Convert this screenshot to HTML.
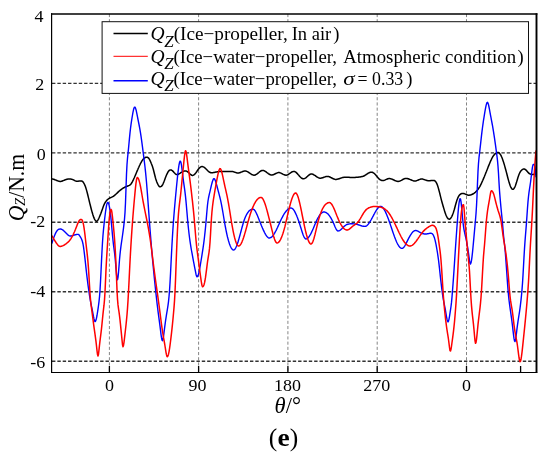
<!DOCTYPE html>
<html><head><meta charset="utf-8"><title>Qz chart (e)</title>
<style>
html,body{margin:0;padding:0;background:#fff;}
svg{display:block;font-family:"Liberation Serif","DejaVu Serif",serif;}
.tk{font-size:17.5px;fill:#000;}
.lg{font-size:18.5px;fill:#000;}
</style></head><body>
<svg width="550" height="459" viewBox="0 0 550 459">
<rect x="0" y="0" width="550" height="459" fill="#fff"/>
<!-- grid -->
<g stroke="#858585" stroke-width="1" stroke-dasharray="3.1 2.1" fill="none">
<path d="M109.4,14V372 M198.6,14V372 M287.9,14V372 M377.2,14V372 M466.5,14V372"/>
</g>
<g stroke="#333" stroke-width="1.35" stroke-dasharray="3.4 1.95" fill="none">
<path d="M52,83.4H537 M52,152.8H537 M52,222.2H537 M52,291.7H537 M52,361.2H537"/>
</g>
<!-- curves -->
<g fill="none" stroke-linejoin="round" stroke-linecap="round">
<path stroke="#000" stroke-width="1.5" d="M51.8,179.0 L52.3,179.0 L52.8,179.1 L53.3,179.2 L53.8,179.3 L54.3,179.5 L54.8,179.7 L55.3,179.9 L55.8,180.1 L56.3,180.3 L56.8,180.5 L57.3,180.7 L57.8,180.9 L58.3,181.1 L58.8,181.2 L59.3,181.3 L59.8,181.4 L60.3,181.4 L60.8,181.4 L61.3,181.3 L61.8,181.2 L62.3,181.0 L62.8,180.8 L63.3,180.6 L63.8,180.4 L64.3,180.2 L64.8,180.0 L65.3,179.8 L65.8,179.6 L66.3,179.5 L66.8,179.3 L67.3,179.2 L67.8,179.1 L68.3,179.0 L68.8,179.0 L69.3,179.0 L69.8,179.0 L70.3,179.1 L70.8,179.1 L71.3,179.2 L71.8,179.3 L72.3,179.4 L72.8,179.6 L73.3,179.8 L73.8,180.1 L74.3,180.3 L74.8,180.6 L75.3,180.9 L75.8,181.1 L76.3,181.2 L76.8,181.3 L77.3,181.3 L77.8,181.3 L78.3,181.2 L78.8,181.1 L79.3,181.1 L79.8,181.0 L80.3,180.9 L80.8,180.9 L81.3,180.9 L81.8,181.0 L82.3,181.3 L82.8,181.7 L83.3,182.3 L83.8,183.1 L84.3,184.0 L84.8,185.1 L85.3,186.3 L85.8,187.8 L86.3,189.4 L86.8,191.1 L87.3,193.0 L87.8,195.0 L88.3,197.1 L88.8,199.2 L89.3,201.2 L89.8,203.3 L90.3,205.3 L90.8,207.3 L91.3,209.2 L91.8,211.1 L92.3,212.8 L92.8,214.5 L93.3,216.0 L93.8,217.4 L94.3,218.6 L94.8,219.6 L95.3,220.3 L95.8,220.9 L96.3,221.2 L96.8,221.2 L97.3,220.8 L97.8,220.2 L98.3,219.3 L98.8,218.3 L99.3,217.2 L99.8,216.0 L100.3,214.8 L100.8,213.6 L101.3,212.2 L101.8,210.8 L102.3,209.4 L102.8,208.0 L103.3,206.6 L103.8,205.3 L104.3,204.1 L104.8,203.2 L105.3,202.3 L105.8,201.6 L106.3,200.9 L106.8,200.3 L107.3,199.8 L107.8,199.4 L108.3,199.0 L108.8,198.6 L109.3,198.3 L109.8,198.0 L110.3,197.8 L110.8,197.6 L111.3,197.3 L111.8,197.1 L112.3,196.9 L112.8,196.6 L113.3,196.3 L113.8,196.0 L114.3,195.6 L114.8,195.2 L115.3,194.7 L115.8,194.3 L116.3,193.8 L116.8,193.3 L117.3,192.9 L117.8,192.4 L118.3,191.9 L118.8,191.4 L119.3,191.0 L119.8,190.6 L120.3,190.2 L120.8,189.8 L121.3,189.4 L121.8,189.0 L122.3,188.7 L122.8,188.3 L123.3,188.0 L123.8,187.7 L124.3,187.5 L124.8,187.2 L125.3,187.0 L125.8,186.8 L126.3,186.6 L126.8,186.4 L127.3,186.2 L127.8,186.0 L128.3,185.8 L128.8,185.6 L129.3,185.4 L129.8,185.1 L130.3,184.7 L130.8,184.2 L131.3,183.5 L131.8,182.8 L132.3,181.9 L132.8,180.9 L133.3,179.9 L133.8,178.8 L134.3,177.7 L134.8,176.5 L135.3,175.4 L135.8,174.2 L136.3,173.0 L136.8,171.8 L137.3,170.6 L137.8,169.5 L138.3,168.3 L138.8,167.2 L139.3,166.0 L139.8,165.0 L140.3,163.9 L140.8,163.0 L141.3,162.1 L141.8,161.2 L142.3,160.4 L142.8,159.7 L143.3,159.1 L143.8,158.6 L144.3,158.1 L144.8,157.8 L145.3,157.5 L145.8,157.3 L146.3,157.2 L146.8,157.2 L147.3,157.3 L147.8,157.5 L148.3,157.9 L148.8,158.4 L149.3,159.1 L149.8,160.0 L150.3,161.1 L150.8,162.2 L151.3,163.5 L151.8,164.7 L152.3,166.1 L152.8,167.6 L153.3,169.3 L153.8,171.2 L154.3,173.2 L154.8,175.2 L155.3,177.2 L155.8,179.0 L156.3,180.6 L156.8,182.0 L157.3,183.2 L157.8,184.2 L158.3,185.1 L158.8,185.9 L159.3,186.5 L159.8,186.8 L160.3,186.8 L160.8,186.6 L161.3,186.4 L161.8,185.9 L162.3,185.3 L162.8,184.4 L163.3,183.3 L163.8,182.1 L164.3,180.8 L164.8,179.4 L165.3,178.0 L165.8,176.7 L166.3,175.5 L166.8,174.3 L167.3,173.3 L167.8,172.3 L168.3,171.5 L168.8,170.9 L169.3,170.4 L169.8,170.1 L170.3,170.0 L170.8,169.9 L171.3,170.0 L171.8,170.3 L172.3,170.6 L172.8,171.1 L173.3,171.6 L173.8,172.2 L174.3,172.8 L174.8,173.3 L175.3,173.8 L175.8,174.2 L176.3,174.5 L176.8,174.6 L177.3,174.6 L177.8,174.4 L178.3,174.3 L178.8,174.0 L179.3,173.7 L179.8,173.4 L180.3,173.1 L180.8,172.7 L181.3,172.4 L181.8,172.1 L182.3,171.9 L182.8,171.6 L183.3,171.4 L183.8,171.2 L184.3,171.1 L184.8,171.0 L185.3,171.0 L185.8,171.0 L186.3,171.1 L186.8,171.3 L187.3,171.6 L187.8,171.9 L188.3,172.3 L188.8,172.8 L189.3,173.3 L189.8,173.8 L190.3,174.2 L190.8,174.7 L191.3,175.0 L191.8,175.3 L192.3,175.4 L192.8,175.4 L193.3,175.2 L193.8,174.9 L194.3,174.6 L194.8,174.1 L195.3,173.5 L195.8,172.9 L196.3,172.2 L196.8,171.5 L197.3,170.7 L197.8,170.0 L198.3,169.3 L198.8,168.7 L199.3,168.1 L199.8,167.7 L200.3,167.2 L200.8,166.9 L201.3,166.7 L201.8,166.6 L202.3,166.6 L202.8,166.7 L203.3,166.9 L203.8,167.1 L204.3,167.4 L204.8,167.8 L205.3,168.3 L205.8,168.8 L206.3,169.3 L206.8,169.8 L207.3,170.3 L207.8,170.8 L208.3,171.3 L208.8,171.7 L209.3,172.0 L209.8,172.3 L210.3,172.5 L210.8,172.7 L211.3,172.8 L211.8,172.8 L212.3,172.8 L212.8,172.7 L213.3,172.6 L213.8,172.5 L214.3,172.4 L214.8,172.3 L215.3,172.2 L215.8,172.1 L216.3,172.0 L216.8,171.9 L217.3,171.8 L217.8,171.7 L218.3,171.6 L218.8,171.6 L219.3,171.5 L219.8,171.5 L220.3,171.5 L220.8,171.5 L221.3,171.5 L221.8,171.5 L222.3,171.5 L222.8,171.4 L223.3,171.4 L223.8,171.4 L224.3,171.4 L224.8,171.4 L225.3,171.4 L225.8,171.4 L226.3,171.4 L226.8,171.4 L227.3,171.4 L227.8,171.4 L228.3,171.4 L228.8,171.4 L229.3,171.4 L229.8,171.4 L230.3,171.4 L230.8,171.4 L231.3,171.4 L231.8,171.4 L232.3,171.5 L232.8,171.6 L233.3,171.7 L233.8,171.9 L234.3,172.1 L234.8,172.2 L235.3,172.4 L235.8,172.6 L236.3,172.7 L236.8,172.9 L237.3,172.9 L237.8,173.0 L238.3,173.0 L238.8,172.9 L239.3,172.8 L239.8,172.7 L240.3,172.5 L240.8,172.3 L241.3,172.1 L241.8,171.9 L242.3,171.7 L242.8,171.5 L243.3,171.3 L243.8,171.2 L244.3,171.1 L244.8,171.0 L245.3,171.0 L245.8,171.1 L246.3,171.2 L246.8,171.4 L247.3,171.6 L247.8,171.8 L248.3,172.2 L248.8,172.5 L249.3,172.8 L249.8,173.2 L250.3,173.5 L250.8,173.9 L251.3,174.2 L251.8,174.5 L252.3,174.7 L252.8,174.9 L253.3,175.1 L253.8,175.2 L254.3,175.2 L254.8,175.1 L255.3,175.0 L255.8,174.7 L256.3,174.4 L256.8,174.1 L257.3,173.7 L257.8,173.3 L258.3,172.9 L258.8,172.5 L259.3,172.0 L259.8,171.6 L260.3,171.3 L260.8,171.0 L261.3,170.7 L261.8,170.5 L262.3,170.4 L262.8,170.4 L263.3,170.5 L263.8,170.6 L264.3,170.8 L264.8,171.1 L265.3,171.4 L265.8,171.7 L266.3,172.1 L266.8,172.5 L267.3,172.9 L267.8,173.2 L268.3,173.6 L268.8,173.9 L269.3,174.3 L269.8,174.5 L270.3,174.7 L270.8,174.9 L271.3,175.0 L271.8,175.0 L272.3,174.9 L272.8,174.8 L273.3,174.7 L273.8,174.5 L274.3,174.2 L274.8,174.0 L275.3,173.8 L275.8,173.5 L276.3,173.3 L276.8,173.1 L277.3,172.9 L277.8,172.7 L278.3,172.6 L278.8,172.6 L279.3,172.6 L279.8,172.7 L280.3,172.9 L280.8,173.1 L281.3,173.3 L281.8,173.6 L282.3,173.8 L282.8,174.1 L283.3,174.4 L283.8,174.6 L284.3,174.8 L284.8,175.0 L285.3,175.1 L285.8,175.2 L286.3,175.2 L286.8,175.1 L287.3,174.9 L287.8,174.7 L288.3,174.4 L288.8,174.1 L289.3,173.7 L289.8,173.4 L290.3,173.0 L290.8,172.7 L291.3,172.3 L291.8,172.0 L292.3,171.8 L292.8,171.6 L293.3,171.4 L293.8,171.4 L294.3,171.5 L294.8,171.6 L295.3,171.9 L295.8,172.2 L296.3,172.6 L296.8,173.1 L297.3,173.6 L297.8,174.2 L298.3,174.8 L298.8,175.3 L299.3,175.9 L299.8,176.5 L300.3,177.0 L300.8,177.5 L301.3,177.9 L301.8,178.3 L302.3,178.5 L302.8,178.7 L303.3,178.8 L303.8,178.8 L304.3,178.6 L304.8,178.4 L305.3,178.1 L305.8,177.8 L306.3,177.4 L306.8,176.9 L307.3,176.5 L307.8,176.0 L308.3,175.6 L308.8,175.2 L309.3,174.8 L309.8,174.5 L310.3,174.2 L310.8,174.1 L311.3,174.0 L311.8,174.0 L312.3,174.1 L312.8,174.3 L313.3,174.5 L313.8,174.8 L314.3,175.1 L314.8,175.4 L315.3,175.7 L315.8,176.1 L316.3,176.5 L316.8,176.8 L317.3,177.1 L317.8,177.4 L318.3,177.7 L318.8,177.9 L319.3,178.1 L319.8,178.2 L320.3,178.2 L320.8,178.2 L321.3,178.1 L321.8,178.0 L322.3,177.8 L322.8,177.7 L323.3,177.5 L323.8,177.3 L324.3,177.1 L324.8,176.9 L325.3,176.8 L325.8,176.6 L326.3,176.5 L326.8,176.4 L327.3,176.4 L327.8,176.4 L328.3,176.5 L328.8,176.6 L329.3,176.8 L329.8,177.0 L330.3,177.2 L330.8,177.5 L331.3,177.7 L331.8,178.0 L332.3,178.3 L332.8,178.5 L333.3,178.8 L333.8,179.0 L334.3,179.1 L334.8,179.3 L335.3,179.4 L335.8,179.4 L336.3,179.4 L336.8,179.3 L337.3,179.2 L337.8,179.1 L338.3,179.0 L338.8,178.8 L339.3,178.7 L339.8,178.5 L340.3,178.3 L340.8,178.1 L341.3,177.9 L341.8,177.8 L342.3,177.6 L342.8,177.5 L343.3,177.4 L343.8,177.3 L344.3,177.2 L344.8,177.2 L345.3,177.2 L345.8,177.2 L346.3,177.2 L346.8,177.2 L347.3,177.3 L347.8,177.3 L348.3,177.3 L348.8,177.3 L349.3,177.3 L349.8,177.4 L350.3,177.4 L350.8,177.4 L351.3,177.4 L351.8,177.4 L352.3,177.4 L352.8,177.4 L353.3,177.4 L353.8,177.4 L354.3,177.4 L354.8,177.4 L355.3,177.4 L355.8,177.3 L356.3,177.3 L356.8,177.3 L357.3,177.3 L357.8,177.2 L358.3,177.2 L358.8,177.1 L359.3,177.1 L359.8,177.0 L360.3,176.9 L360.8,176.8 L361.3,176.7 L361.8,176.6 L362.3,176.5 L362.8,176.4 L363.3,176.2 L363.8,176.0 L364.3,175.8 L364.8,175.5 L365.3,175.1 L365.8,174.8 L366.3,174.5 L366.8,174.1 L367.3,173.8 L367.8,173.5 L368.3,173.2 L368.8,172.9 L369.3,172.7 L369.8,172.5 L370.3,172.3 L370.8,172.2 L371.3,172.2 L371.8,172.2 L372.3,172.3 L372.8,172.5 L373.3,172.8 L373.8,173.1 L374.3,173.5 L374.8,174.0 L375.3,174.5 L375.8,175.1 L376.3,175.7 L376.8,176.3 L377.3,176.9 L377.8,177.5 L378.3,178.1 L378.8,178.6 L379.3,179.1 L379.8,179.5 L380.3,179.8 L380.8,180.1 L381.3,180.3 L381.8,180.5 L382.3,180.6 L382.8,180.6 L383.3,180.5 L383.8,180.4 L384.3,180.3 L384.8,180.1 L385.3,179.9 L385.8,179.6 L386.3,179.4 L386.8,179.2 L387.3,179.0 L387.8,178.8 L388.3,178.7 L388.8,178.6 L389.3,178.6 L389.8,178.6 L390.3,178.7 L390.8,178.8 L391.3,178.9 L391.8,179.1 L392.3,179.3 L392.8,179.5 L393.3,179.8 L393.8,180.0 L394.3,180.2 L394.8,180.5 L395.3,180.7 L395.8,180.9 L396.3,181.1 L396.8,181.2 L397.3,181.3 L397.8,181.4 L398.3,181.4 L398.8,181.3 L399.3,181.2 L399.8,181.1 L400.3,180.9 L400.8,180.6 L401.3,180.4 L401.8,180.1 L402.3,179.8 L402.8,179.5 L403.3,179.2 L403.8,179.0 L404.3,178.8 L404.8,178.6 L405.3,178.5 L405.8,178.4 L406.3,178.4 L406.8,178.5 L407.3,178.5 L407.8,178.7 L408.3,178.8 L408.8,179.0 L409.3,179.2 L409.8,179.4 L410.3,179.6 L410.8,179.8 L411.3,180.0 L411.8,180.2 L412.3,180.4 L412.8,180.6 L413.3,180.8 L413.8,180.9 L414.3,181.0 L414.8,181.0 L415.3,181.0 L415.8,180.9 L416.3,180.8 L416.8,180.6 L417.3,180.4 L417.8,180.2 L418.3,180.0 L418.8,179.8 L419.3,179.6 L419.8,179.4 L420.3,179.2 L420.8,179.1 L421.3,179.0 L421.8,179.0 L422.3,179.0 L422.8,179.1 L423.3,179.3 L423.8,179.4 L424.3,179.6 L424.8,179.8 L425.3,179.9 L425.8,180.1 L426.3,180.3 L426.8,180.5 L427.3,180.6 L427.8,180.7 L428.3,180.8 L428.8,180.8 L429.3,180.8 L429.8,180.8 L430.3,180.7 L430.8,180.6 L431.3,180.6 L431.8,180.5 L432.3,180.5 L432.8,180.4 L433.3,180.4 L433.8,180.4 L434.3,180.5 L434.8,180.8 L435.3,181.2 L435.8,181.8 L436.3,182.6 L436.8,183.6 L437.3,184.8 L437.8,186.3 L438.3,187.9 L438.8,189.7 L439.3,191.6 L439.8,193.5 L440.3,195.6 L440.8,197.6 L441.3,199.6 L441.8,201.5 L442.3,203.3 L442.8,205.0 L443.3,206.7 L443.8,208.4 L444.3,210.1 L444.8,211.7 L445.3,213.2 L445.8,214.6 L446.3,215.8 L446.8,216.9 L447.3,217.7 L447.8,218.4 L448.3,218.9 L448.8,219.1 L449.3,219.2 L449.8,219.0 L450.3,218.7 L450.8,218.1 L451.3,217.4 L451.8,216.5 L452.3,215.4 L452.8,214.1 L453.3,212.7 L453.8,211.1 L454.3,209.5 L454.8,207.7 L455.3,205.8 L455.8,204.0 L456.3,202.2 L456.8,200.6 L457.3,199.2 L457.8,197.9 L458.3,196.9 L458.8,196.0 L459.3,195.3 L459.8,194.7 L460.3,194.3 L460.8,193.9 L461.3,193.7 L461.8,193.5 L462.3,193.4 L462.8,193.4 L463.3,193.4 L463.8,193.5 L464.3,193.7 L464.8,193.9 L465.3,194.1 L465.8,194.4 L466.3,194.6 L466.8,194.8 L467.3,195.0 L467.8,195.1 L468.3,195.2 L468.8,195.2 L469.3,195.2 L469.8,195.1 L470.3,195.0 L470.8,194.9 L471.3,194.7 L471.8,194.5 L472.3,194.3 L472.8,194.0 L473.3,193.8 L473.8,193.4 L474.3,193.1 L474.8,192.7 L475.3,192.3 L475.8,191.8 L476.3,191.3 L476.8,190.8 L477.3,190.3 L477.8,189.6 L478.3,189.0 L478.8,188.2 L479.3,187.4 L479.8,186.6 L480.3,185.6 L480.8,184.7 L481.3,183.6 L481.8,182.5 L482.3,181.4 L482.8,180.3 L483.3,179.1 L483.8,177.9 L484.3,176.7 L484.8,175.4 L485.3,174.2 L485.8,172.9 L486.3,171.7 L486.8,170.4 L487.3,169.2 L487.8,167.9 L488.3,166.6 L488.8,165.4 L489.3,164.2 L489.8,163.0 L490.3,161.8 L490.8,160.6 L491.3,159.6 L491.8,158.5 L492.3,157.6 L492.8,156.7 L493.3,155.9 L493.8,155.3 L494.3,154.7 L494.8,154.1 L495.3,153.7 L495.8,153.3 L496.3,153.0 L496.8,152.7 L497.3,152.5 L497.8,152.4 L498.3,152.5 L498.8,152.7 L499.3,153.1 L499.8,153.7 L500.3,154.4 L500.8,155.2 L501.3,156.2 L501.8,157.3 L502.3,158.6 L502.8,160.0 L503.3,161.4 L503.8,163.0 L504.3,164.6 L504.8,166.4 L505.3,168.2 L505.8,170.0 L506.3,171.9 L506.8,173.8 L507.3,175.7 L507.8,177.7 L508.3,179.6 L508.8,181.4 L509.3,183.1 L509.8,184.6 L510.3,186.0 L510.8,187.1 L511.3,188.0 L511.8,188.7 L512.3,189.2 L512.8,189.3 L513.3,189.2 L513.8,188.7 L514.3,188.0 L514.8,187.1 L515.3,186.0 L515.8,184.6 L516.3,183.1 L516.8,181.4 L517.3,179.7 L517.8,178.0 L518.3,176.4 L518.8,175.0 L519.3,173.8 L519.8,172.7 L520.3,171.8 L520.8,171.1 L521.3,170.5 L521.8,170.0 L522.3,169.6 L522.8,169.3 L523.3,169.1 L523.8,169.0 L524.3,169.0 L524.8,169.2 L525.3,169.5 L525.8,169.9 L526.3,170.4 L526.8,170.9 L527.3,171.5 L527.8,172.1 L528.3,172.6 L528.8,173.1 L529.3,173.6 L529.8,173.8 L530.3,174.1 L530.8,174.2 L531.3,174.3 L531.8,174.4 L532.3,174.4 L532.8,174.4 L533.3,174.4 L533.8,174.3 L534.3,174.2 L534.8,174.1 L535.3,174.1 L535.8,174.0"/>
<path stroke="#0000ff" stroke-width="1.4" d="M52.0,243.0 L52.5,241.4 L53.0,239.9 L53.5,238.4 L54.0,237.0 L54.5,235.7 L55.0,234.5 L55.5,233.4 L56.0,232.4 L56.5,231.5 L57.0,230.8 L57.5,230.2 L58.0,229.8 L58.5,229.4 L59.0,229.2 L59.5,229.1 L60.0,229.0 L60.5,229.0 L61.0,229.1 L61.5,229.2 L62.0,229.5 L62.5,229.8 L63.0,230.1 L63.5,230.6 L64.0,231.0 L64.5,231.5 L65.0,232.0 L65.5,232.5 L66.0,233.0 L66.5,233.5 L67.0,234.0 L67.5,234.5 L68.0,234.9 L68.5,235.4 L69.0,235.7 L69.5,235.9 L70.0,236.0 L70.5,236.0 L71.0,236.0 L71.5,235.9 L72.0,235.8 L72.5,235.7 L73.0,235.6 L73.5,235.4 L74.0,235.2 L74.5,235.0 L75.0,234.8 L75.5,234.7 L76.0,234.6 L76.5,234.5 L77.0,234.4 L77.5,234.4 L78.0,234.4 L78.5,234.5 L79.0,234.9 L79.5,235.5 L80.0,236.3 L80.5,237.1 L81.0,238.0 L81.5,239.0 L82.0,240.2 L82.5,241.8 L83.0,244.0 L83.5,246.9 L84.0,250.5 L84.5,254.6 L85.0,258.9 L85.5,263.5 L86.0,268.1 L86.5,272.6 L87.0,276.9 L87.5,280.9 L88.0,284.8 L88.5,288.5 L89.0,292.0 L89.5,295.3 L90.0,298.5 L90.5,301.3 L91.0,303.9 L91.5,306.3 L92.0,308.6 L92.5,311.1 L93.0,313.8 L93.5,316.5 L94.0,318.9 L94.5,320.7 L95.0,321.6 L95.5,321.3 L96.0,320.1 L96.5,318.1 L97.0,315.5 L97.5,312.4 L98.0,309.1 L98.5,305.5 L99.0,301.6 L99.5,296.9 L100.0,290.5 L100.5,281.8 L101.0,271.7 L101.5,261.1 L102.0,251.0 L102.5,242.3 L103.0,235.3 L103.5,229.6 L104.0,224.7 L104.5,220.2 L105.0,216.0 L105.5,212.0 L106.0,208.6 L106.5,205.7 L107.0,203.7 L107.5,202.5 L108.0,202.4 L108.5,203.2 L109.0,204.8 L109.5,207.2 L110.0,210.4 L110.5,214.3 L111.0,218.9 L111.5,224.2 L112.0,229.8 L112.5,235.4 L113.0,240.5 L113.5,244.9 L114.0,248.7 L114.5,252.4 L115.0,256.7 L115.5,262.1 L116.0,268.5 L116.5,274.4 L117.0,278.7 L117.5,279.8 L118.0,277.4 L118.5,272.4 L119.0,266.2 L119.5,259.8 L120.0,254.4 L120.5,249.8 L121.0,245.9 L121.5,242.4 L122.0,239.0 L122.5,235.5 L123.0,231.9 L123.5,228.1 L124.0,223.8 L124.5,219.0 L125.0,212.6 L125.5,202.7 L126.0,188.4 L126.5,174.2 L127.0,164.5 L127.5,158.3 L128.0,153.5 L128.5,148.6 L129.0,143.2 L129.5,137.9 L130.0,132.9 L130.5,128.5 L131.0,124.7 L131.5,121.2 L132.0,118.0 L132.5,115.0 L133.0,112.1 L133.5,109.8 L134.0,108.0 L134.5,107.1 L135.0,107.2 L135.5,108.1 L136.0,109.7 L136.5,111.8 L137.0,114.3 L137.5,116.9 L138.0,119.5 L138.5,122.0 L139.0,124.5 L139.5,127.2 L140.0,129.9 L140.5,132.9 L141.0,136.1 L141.5,139.6 L142.0,143.3 L142.5,147.2 L143.0,151.1 L143.5,154.9 L144.0,158.8 L144.5,162.8 L145.0,167.0 L145.5,171.6 L146.0,176.7 L146.5,182.3 L147.0,188.5 L147.5,194.9 L148.0,201.7 L148.5,208.6 L149.0,215.5 L149.5,222.3 L150.0,229.0 L150.5,235.4 L151.0,241.5 L151.5,247.5 L152.0,253.3 L152.5,258.9 L153.0,264.3 L153.5,269.5 L154.0,274.6 L154.5,279.6 L155.0,284.5 L155.5,289.2 L156.0,293.8 L156.5,298.4 L157.0,302.8 L157.5,307.0 L158.0,311.1 L158.5,314.9 L159.0,318.7 L159.5,322.4 L160.0,326.2 L160.5,330.2 L161.0,334.3 L161.5,337.7 L162.0,340.0 L162.5,340.7 L163.0,339.3 L163.5,336.4 L164.0,332.6 L164.5,328.6 L165.0,324.8 L165.5,321.2 L166.0,317.9 L166.5,314.7 L167.0,311.7 L167.5,308.7 L168.0,305.4 L168.5,301.6 L169.0,296.8 L169.5,290.7 L170.0,283.0 L170.5,273.9 L171.0,263.8 L171.5,253.7 L172.0,244.2 L172.5,235.7 L173.0,228.0 L173.5,220.9 L174.0,214.5 L174.5,208.4 L175.0,202.7 L175.5,197.3 L176.0,192.0 L176.5,186.8 L177.0,181.8 L177.5,176.9 L178.0,172.3 L178.5,168.3 L179.0,165.0 L179.5,162.6 L180.0,161.2 L180.5,161.1 L181.0,162.6 L181.5,165.4 L182.0,169.1 L182.5,173.2 L183.0,177.4 L183.5,181.3 L184.0,184.9 L184.5,188.4 L185.0,192.1 L185.5,196.4 L186.0,201.4 L186.5,207.0 L187.0,212.8 L187.5,218.7 L188.0,224.1 L188.5,229.0 L189.0,233.5 L189.5,237.5 L190.0,241.1 L190.5,244.4 L191.0,247.6 L191.5,250.5 L192.0,253.2 L192.5,255.9 L193.0,258.6 L193.5,261.3 L194.0,263.9 L194.5,266.6 L195.0,269.2 L195.5,271.7 L196.0,274.2 L196.5,276.0 L197.0,276.8 L197.5,276.5 L198.0,275.6 L198.5,274.1 L199.0,272.1 L199.5,269.7 L200.0,266.9 L200.5,264.0 L201.0,261.0 L201.5,258.0 L202.0,254.9 L202.5,251.7 L203.0,248.4 L203.5,244.9 L204.0,241.1 L204.5,237.0 L205.0,232.4 L205.5,227.5 L206.0,222.0 L206.5,216.1 L207.0,210.2 L207.5,205.0 L208.0,201.0 L208.5,198.0 L209.0,195.6 L209.5,193.4 L210.0,191.3 L210.5,189.1 L211.0,187.0 L211.5,184.9 L212.0,183.0 L212.5,181.2 L213.0,179.9 L213.5,178.9 L214.0,178.6 L214.5,178.9 L215.0,179.8 L215.5,181.1 L216.0,182.7 L216.5,184.5 L217.0,186.3 L217.5,188.2 L218.0,190.1 L218.5,192.0 L219.0,193.9 L219.5,195.9 L220.0,197.8 L220.5,199.9 L221.0,202.2 L221.5,204.6 L222.0,207.3 L222.5,210.1 L223.0,213.0 L223.5,216.0 L224.0,219.0 L224.5,222.0 L225.0,224.8 L225.5,227.5 L226.0,230.1 L226.5,232.5 L227.0,234.8 L227.5,237.0 L228.0,238.9 L228.5,240.8 L229.0,242.4 L229.5,244.0 L230.0,245.3 L230.5,246.5 L231.0,247.5 L231.5,248.4 L232.0,249.1 L232.5,249.6 L233.0,249.9 L233.5,250.0 L234.0,249.9 L234.5,249.6 L235.0,249.0 L235.5,248.3 L236.0,247.3 L236.5,246.2 L237.0,244.9 L237.5,243.5 L238.0,242.0 L238.5,240.3 L239.0,238.6 L239.5,236.8 L240.0,235.0 L240.5,233.1 L241.0,231.2 L241.5,229.4 L242.0,227.5 L242.5,225.7 L243.0,224.0 L243.5,222.3 L244.0,220.8 L244.5,219.3 L245.0,218.0 L245.5,216.8 L246.0,215.7 L246.5,214.7 L247.0,213.8 L247.5,213.0 L248.0,212.3 L248.5,211.6 L249.0,211.1 L249.5,210.6 L250.0,210.2 L250.5,209.9 L251.0,209.6 L251.5,209.4 L252.0,209.3 L252.5,209.2 L253.0,209.2 L253.5,209.3 L254.0,209.6 L254.5,210.1 L255.0,210.7 L255.5,211.5 L256.0,212.5 L256.5,213.5 L257.0,214.6 L257.5,215.8 L258.0,217.0 L258.5,218.2 L259.0,219.5 L259.5,220.8 L260.0,222.0 L260.5,223.2 L261.0,224.4 L261.5,225.7 L262.0,226.9 L262.5,228.1 L263.0,229.2 L263.5,230.4 L264.0,231.4 L264.5,232.5 L265.0,233.4 L265.5,234.3 L266.0,235.1 L266.5,235.9 L267.0,236.5 L267.5,237.0 L268.0,237.5 L268.5,237.8 L269.0,238.0 L269.5,238.0 L270.0,237.9 L270.5,237.7 L271.0,237.5 L271.5,237.1 L272.0,236.7 L272.5,236.1 L273.0,235.5 L273.5,234.8 L274.0,234.1 L274.5,233.3 L275.0,232.4 L275.5,231.5 L276.0,230.6 L276.5,229.6 L277.0,228.5 L277.5,227.5 L278.0,226.4 L278.5,225.3 L279.0,224.2 L279.5,223.1 L280.0,222.0 L280.5,220.9 L281.0,219.8 L281.5,218.8 L282.0,217.8 L282.5,216.9 L283.0,215.9 L283.5,215.0 L284.0,214.2 L284.5,213.4 L285.0,212.7 L285.5,212.0 L286.0,211.3 L286.5,210.7 L287.0,210.2 L287.5,209.7 L288.0,209.2 L288.5,208.9 L289.0,208.6 L289.5,208.3 L290.0,208.1 L290.5,208.0 L291.0,208.0 L291.5,208.1 L292.0,208.3 L292.5,208.6 L293.0,209.1 L293.5,209.7 L294.0,210.4 L294.5,211.2 L295.0,212.1 L295.5,213.1 L296.0,214.2 L296.5,215.3 L297.0,216.6 L297.5,217.8 L298.0,219.2 L298.5,220.6 L299.0,222.0 L299.5,223.5 L300.0,225.1 L300.5,226.7 L301.0,228.3 L301.5,229.9 L302.0,231.5 L302.5,233.0 L303.0,234.4 L303.5,235.7 L304.0,236.8 L304.5,237.7 L305.0,238.4 L305.5,238.8 L306.0,239.0 L306.5,238.9 L307.0,238.7 L307.5,238.4 L308.0,238.0 L308.5,237.4 L309.0,236.8 L309.5,236.0 L310.0,235.2 L310.5,234.3 L311.0,233.4 L311.5,232.4 L312.0,231.3 L312.5,230.2 L313.0,229.1 L313.5,227.9 L314.0,226.7 L314.5,225.5 L315.0,224.3 L315.5,223.2 L316.0,222.0 L316.5,220.9 L317.0,219.8 L317.5,218.8 L318.0,217.8 L318.5,217.0 L319.0,216.1 L319.5,215.4 L320.0,214.7 L320.5,214.1 L321.0,213.5 L321.5,213.1 L322.0,212.7 L322.5,212.4 L323.0,212.2 L323.5,212.0 L324.0,212.0 L324.5,212.0 L325.0,212.1 L325.5,212.3 L326.0,212.5 L326.5,212.8 L327.0,213.2 L327.5,213.6 L328.0,214.1 L328.5,214.6 L329.0,215.2 L329.5,215.9 L330.0,216.6 L330.5,217.4 L331.0,218.2 L331.5,219.1 L332.0,220.0 L332.5,221.0 L333.0,222.0 L333.5,223.1 L334.0,224.3 L334.5,225.5 L335.0,226.7 L335.5,227.8 L336.0,228.8 L336.5,229.7 L337.0,230.4 L337.5,230.8 L338.0,231.0 L338.5,230.9 L339.0,230.8 L339.5,230.6 L340.0,230.3 L340.5,229.9 L341.0,229.5 L341.5,229.0 L342.0,228.6 L342.5,228.1 L343.0,227.6 L343.5,227.1 L344.0,226.6 L344.5,226.1 L345.0,225.7 L345.5,225.3 L346.0,225.0 L346.5,224.7 L347.0,224.5 L347.5,224.3 L348.0,224.2 L348.5,224.1 L349.0,224.0 L349.5,223.9 L350.0,223.9 L350.5,223.8 L351.0,223.8 L351.5,223.8 L352.0,223.8 L352.5,223.8 L353.0,223.8 L353.5,223.9 L354.0,223.9 L354.5,223.9 L355.0,224.0 L355.5,224.1 L356.0,224.2 L356.5,224.3 L357.0,224.4 L357.5,224.5 L358.0,224.7 L358.5,224.8 L359.0,225.0 L359.5,225.2 L360.0,225.4 L360.5,225.5 L361.0,225.7 L361.5,225.8 L362.0,226.0 L362.5,226.1 L363.0,226.2 L363.5,226.3 L364.0,226.3 L364.5,226.4 L365.0,226.4 L365.5,226.3 L366.0,226.2 L366.5,225.9 L367.0,225.5 L367.5,225.0 L368.0,224.5 L368.5,223.9 L369.0,223.2 L369.5,222.5 L370.0,221.7 L370.5,220.8 L371.0,220.0 L371.5,219.1 L372.0,218.2 L372.5,217.3 L373.0,216.3 L373.5,215.4 L374.0,214.4 L374.5,213.5 L375.0,212.5 L375.5,211.7 L376.0,210.8 L376.5,210.0 L377.0,209.3 L377.5,208.6 L378.0,208.0 L378.5,207.5 L379.0,207.0 L379.5,206.7 L380.0,206.5 L380.5,206.4 L381.0,206.4 L381.5,206.6 L382.0,206.9 L382.5,207.3 L383.0,207.9 L383.5,208.5 L384.0,209.3 L384.5,210.1 L385.0,211.0 L385.5,212.0 L386.0,213.1 L386.5,214.2 L387.0,215.4 L387.5,216.7 L388.0,218.0 L388.5,219.3 L389.0,220.7 L389.5,222.2 L390.0,223.6 L390.5,225.1 L391.0,226.5 L391.5,228.0 L392.0,229.5 L392.5,231.0 L393.0,232.4 L393.5,233.9 L394.0,235.3 L394.5,236.7 L395.0,238.0 L395.5,239.3 L396.0,240.5 L396.5,241.7 L397.0,242.8 L397.5,243.8 L398.0,244.7 L398.5,245.5 L399.0,246.3 L399.5,246.9 L400.0,247.4 L400.5,247.8 L401.0,248.1 L401.5,248.3 L402.0,248.4 L402.5,248.3 L403.0,248.0 L403.5,247.6 L404.0,247.0 L404.5,246.3 L405.0,245.5 L405.5,244.6 L406.0,243.6 L406.5,242.6 L407.0,241.6 L407.5,240.6 L408.0,239.6 L408.5,238.6 L409.0,237.7 L409.5,236.8 L410.0,235.9 L410.5,235.1 L411.0,234.3 L411.5,233.6 L412.0,232.9 L412.5,232.3 L413.0,231.8 L413.5,231.3 L414.0,231.0 L414.5,230.7 L415.0,230.6 L415.5,230.5 L416.0,230.5 L416.5,230.6 L417.0,230.8 L417.5,231.0 L418.0,231.2 L418.5,231.5 L419.0,231.8 L419.5,232.1 L420.0,232.4 L420.5,232.7 L421.0,232.9 L421.5,233.2 L422.0,233.4 L422.5,233.6 L423.0,233.7 L423.5,233.8 L424.0,233.9 L424.5,234.0 L425.0,234.0 L425.5,234.0 L426.0,234.0 L426.5,234.0 L427.0,233.9 L427.5,233.8 L428.0,233.7 L428.5,233.6 L429.0,233.5 L429.5,233.4 L430.0,233.3 L430.5,233.3 L431.0,233.3 L431.5,233.4 L432.0,233.6 L432.5,234.0 L433.0,234.6 L433.5,235.5 L434.0,236.7 L434.5,238.1 L435.0,239.9 L435.5,242.0 L436.0,244.4 L436.5,247.1 L437.0,250.0 L437.5,253.0 L438.0,256.3 L438.5,260.0 L439.0,264.1 L439.5,268.5 L440.0,273.2 L440.5,277.8 L441.0,282.2 L441.5,286.5 L442.0,290.5 L442.5,294.1 L443.0,297.4 L443.5,300.3 L444.0,302.9 L444.5,305.4 L445.0,307.9 L445.5,310.5 L446.0,313.5 L446.5,316.6 L447.0,319.2 L447.5,321.2 L448.0,321.9 L448.5,321.1 L449.0,319.1 L449.5,316.3 L450.0,313.1 L450.5,309.8 L451.0,306.5 L451.5,302.4 L452.0,297.0 L452.5,290.7 L453.0,284.2 L453.5,277.4 L454.0,270.2 L454.5,262.7 L455.0,255.0 L455.5,247.5 L456.0,240.3 L456.5,233.2 L457.0,226.3 L457.5,219.7 L458.0,213.4 L458.5,207.9 L459.0,203.4 L459.5,200.3 L460.0,198.7 L460.5,199.0 L461.0,201.7 L461.5,206.2 L462.0,211.6 L462.5,217.2 L463.0,222.3 L463.5,226.4 L464.0,229.6 L464.5,232.2 L465.0,234.4 L465.5,236.5 L466.0,238.6 L466.5,241.0 L467.0,243.6 L467.5,246.5 L468.0,249.7 L468.5,253.1 L469.0,256.8 L469.5,260.6 L470.0,263.4 L470.5,263.9 L471.0,262.8 L471.5,260.4 L472.0,256.8 L472.5,252.3 L473.0,247.3 L473.5,241.9 L474.0,236.4 L474.5,230.9 L475.0,225.3 L475.5,219.8 L476.0,213.7 L476.5,206.0 L477.0,195.7 L477.5,183.0 L478.0,171.4 L478.5,163.3 L479.0,157.7 L479.5,153.3 L480.0,149.1 L480.5,144.6 L481.0,140.1 L481.5,135.7 L482.0,131.4 L482.5,127.5 L483.0,123.8 L483.5,120.4 L484.0,117.3 L484.5,114.2 L485.0,111.2 L485.5,108.4 L486.0,105.9 L486.5,103.9 L487.0,102.6 L487.5,102.3 L488.0,103.1 L488.5,104.7 L489.0,107.0 L489.5,109.6 L490.0,112.4 L490.5,115.1 L491.0,117.7 L491.5,120.4 L492.0,123.0 L492.5,125.7 L493.0,128.6 L493.5,131.6 L494.0,134.8 L494.5,138.2 L495.0,141.7 L495.5,145.2 L496.0,148.8 L496.5,152.5 L497.0,156.3 L497.5,160.6 L498.0,166.2 L498.5,173.5 L499.0,182.5 L499.5,190.6 L500.0,196.9 L500.5,202.6 L501.0,208.0 L501.5,213.1 L502.0,218.0 L502.5,223.3 L503.0,229.4 L503.5,235.2 L504.0,240.0 L504.5,244.2 L505.0,249.0 L505.5,254.9 L506.0,261.6 L506.5,268.8 L507.0,276.0 L507.5,283.1 L508.0,289.6 L508.5,295.3 L509.0,300.0 L509.5,304.0 L510.0,307.7 L510.5,311.1 L511.0,314.6 L511.5,318.2 L512.0,322.0 L512.5,326.0 L513.0,330.4 L513.5,334.7 L514.0,338.4 L514.5,340.9 L515.0,341.6 L515.5,340.0 L516.0,336.9 L516.5,332.8 L517.0,328.6 L517.5,324.8 L518.0,321.4 L518.5,318.2 L519.0,315.0 L519.5,311.8 L520.0,308.3 L520.5,304.4 L521.0,300.1 L521.5,295.2 L522.0,289.7 L522.5,283.2 L523.0,275.2 L523.5,266.2 L524.0,257.1 L524.5,248.6 L525.0,241.4 L525.5,235.0 L526.0,228.9 L526.5,222.4 L527.0,215.2 L527.5,208.0 L528.0,201.6 L528.5,196.5 L529.0,192.4 L529.5,189.0 L530.0,185.8 L530.5,182.5 L531.0,178.7 L531.5,174.4 L532.0,170.3 L532.5,166.9 L533.0,164.8 L533.5,164.4 L534.0,164.5 L534.5,165.1 L535.0,167.0 L535.5,170.7 L536.0,176.7"/>
<path stroke="#ff0000" stroke-width="1.5" d="M52.0,236.0 L52.5,236.8 L53.0,237.6 L53.5,238.5 L54.0,239.3 L54.5,240.1 L55.0,241.0 L55.5,241.7 L56.0,242.5 L56.5,243.2 L57.0,243.9 L57.5,244.6 L58.0,245.2 L58.5,245.7 L59.0,246.1 L59.5,246.3 L60.0,246.4 L60.5,246.4 L61.0,246.3 L61.5,246.2 L62.0,246.1 L62.5,245.9 L63.0,245.7 L63.5,245.4 L64.0,245.2 L64.5,244.8 L65.0,244.5 L65.5,244.1 L66.0,243.8 L66.5,243.4 L67.0,243.0 L67.5,242.6 L68.0,242.2 L68.5,241.7 L69.0,241.2 L69.5,240.6 L70.0,240.0 L70.5,239.3 L71.0,238.6 L71.5,237.7 L72.0,236.9 L72.5,235.9 L73.0,235.0 L73.5,233.9 L74.0,232.8 L74.5,231.7 L75.0,230.5 L75.5,229.3 L76.0,228.0 L76.5,226.7 L77.0,225.4 L77.5,224.1 L78.0,222.9 L78.5,221.9 L79.0,221.0 L79.5,220.3 L80.0,219.8 L80.5,219.5 L81.0,219.4 L81.5,219.5 L82.0,219.9 L82.5,220.8 L83.0,222.4 L83.5,224.7 L84.0,227.7 L84.5,231.2 L85.0,235.2 L85.5,239.5 L86.0,243.8 L86.5,248.1 L87.0,252.4 L87.5,256.9 L88.0,262.2 L88.5,268.7 L89.0,276.7 L89.5,285.5 L90.0,293.5 L90.5,299.6 L91.0,304.3 L91.5,308.2 L92.0,311.8 L92.5,315.6 L93.0,319.5 L93.5,323.4 L94.0,327.1 L94.5,330.7 L95.0,334.2 L95.5,337.8 L96.0,341.7 L96.5,346.0 L97.0,350.7 L97.5,354.5 L98.0,356.1 L98.5,354.2 L99.0,349.9 L99.5,345.1 L100.0,340.8 L100.5,336.8 L101.0,332.9 L101.5,328.6 L102.0,323.8 L102.5,318.7 L103.0,313.8 L103.5,309.4 L104.0,305.2 L104.5,299.9 L105.0,292.0 L105.5,281.0 L106.0,269.6 L106.5,260.1 L107.0,252.0 L107.5,244.2 L108.0,236.3 L108.5,228.7 L109.0,222.0 L109.5,216.6 L110.0,212.7 L110.5,210.3 L111.0,209.3 L111.5,210.1 L112.0,213.0 L112.5,217.2 L113.0,222.0 L113.5,227.0 L114.0,232.4 L114.5,238.5 L115.0,245.7 L115.5,254.2 L116.0,264.5 L116.5,276.9 L117.0,289.8 L117.5,299.1 L118.0,304.9 L118.5,308.6 L119.0,311.8 L119.5,315.6 L120.0,319.9 L120.5,324.6 L121.0,329.6 L121.5,334.6 L122.0,339.7 L122.5,344.8 L123.0,346.8 L123.5,345.4 L124.0,342.3 L124.5,338.1 L125.0,333.8 L125.5,329.5 L126.0,325.0 L126.5,320.2 L127.0,314.8 L127.5,308.4 L128.0,300.8 L128.5,292.0 L129.0,282.0 L129.5,271.7 L130.0,261.8 L130.5,252.5 L131.0,244.0 L131.5,236.1 L132.0,228.8 L132.5,222.0 L133.0,215.5 L133.5,209.4 L134.0,203.5 L134.5,198.0 L135.0,192.6 L135.5,187.5 L136.0,183.1 L136.5,179.8 L137.0,177.8 L137.5,177.5 L138.0,178.0 L138.5,178.9 L139.0,180.3 L139.5,182.1 L140.0,184.2 L140.5,186.5 L141.0,189.2 L141.5,192.0 L142.0,195.0 L142.5,198.0 L143.0,200.8 L143.5,203.5 L144.0,206.1 L144.5,208.7 L145.0,211.1 L145.5,213.6 L146.0,216.0 L146.5,218.5 L147.0,221.0 L147.5,223.5 L148.0,226.2 L148.5,228.9 L149.0,231.8 L149.5,234.8 L150.0,238.0 L150.5,241.4 L151.0,245.0 L151.5,248.8 L152.0,252.8 L152.5,256.9 L153.0,261.0 L153.5,265.0 L154.0,268.9 L154.5,272.7 L155.0,276.4 L155.5,280.0 L156.0,283.5 L156.5,287.1 L157.0,290.6 L157.5,294.1 L158.0,297.7 L158.5,301.3 L159.0,305.0 L159.5,308.8 L160.0,312.7 L160.5,316.6 L161.0,320.5 L161.5,324.3 L162.0,327.9 L162.5,331.2 L163.0,334.3 L163.5,337.3 L164.0,340.1 L164.5,343.0 L165.0,346.0 L165.5,349.2 L166.0,352.3 L166.5,354.9 L167.0,356.5 L167.5,356.7 L168.0,355.9 L168.5,354.2 L169.0,351.8 L169.5,348.8 L170.0,345.3 L170.5,341.5 L171.0,337.4 L171.5,333.1 L172.0,328.6 L172.5,323.8 L173.0,318.7 L173.5,313.3 L174.0,307.6 L174.5,300.9 L175.0,292.0 L175.5,280.3 L176.0,266.8 L176.5,253.2 L177.0,240.6 L177.5,229.5 L178.0,220.4 L178.5,213.4 L179.0,208.0 L179.5,203.7 L180.0,199.7 L180.5,195.6 L181.0,191.0 L181.5,186.0 L182.0,180.8 L182.5,175.6 L183.0,170.5 L183.5,165.4 L184.0,160.4 L184.5,155.8 L185.0,152.3 L185.5,150.7 L186.0,151.3 L186.5,153.8 L187.0,157.4 L187.5,161.6 L188.0,165.6 L188.5,169.4 L189.0,173.1 L189.5,176.8 L190.0,180.6 L190.5,184.5 L191.0,188.7 L191.5,192.9 L192.0,197.3 L192.5,201.7 L193.0,206.3 L193.5,211.2 L194.0,216.4 L194.5,222.0 L195.0,228.1 L195.5,234.2 L196.0,240.0 L196.5,245.1 L197.0,249.5 L197.5,253.4 L198.0,257.1 L198.5,260.9 L199.0,264.7 L199.5,268.5 L200.0,272.3 L200.5,276.0 L201.0,279.6 L201.5,283.0 L202.0,285.5 L202.5,286.8 L203.0,286.6 L203.5,286.0 L204.0,284.7 L204.5,282.9 L205.0,280.5 L205.5,277.4 L206.0,273.7 L206.5,269.8 L207.0,265.8 L207.5,262.0 L208.0,258.6 L208.5,255.6 L209.0,252.5 L209.5,248.4 L210.0,242.5 L210.5,234.4 L211.0,225.4 L211.5,217.5 L212.0,211.3 L212.5,206.5 L213.0,202.6 L213.5,199.2 L214.0,196.1 L214.5,193.1 L215.0,190.2 L215.5,187.3 L216.0,184.5 L216.5,181.7 L217.0,179.1 L217.5,176.6 L218.0,174.2 L218.5,172.1 L219.0,170.4 L219.5,169.2 L220.0,168.6 L220.5,168.8 L221.0,169.7 L221.5,171.2 L222.0,173.0 L222.5,175.1 L223.0,177.4 L223.5,179.8 L224.0,182.2 L224.5,184.5 L225.0,186.8 L225.5,188.9 L226.0,191.1 L226.5,193.4 L227.0,195.7 L227.5,198.2 L228.0,200.8 L228.5,203.5 L229.0,206.5 L229.5,209.5 L230.0,212.7 L230.5,215.8 L231.0,219.0 L231.5,222.0 L232.0,224.9 L232.5,227.7 L233.0,230.3 L233.5,232.8 L234.0,235.1 L234.5,237.2 L235.0,239.1 L235.5,240.8 L236.0,242.3 L236.5,243.5 L237.0,244.6 L237.5,245.3 L238.0,245.8 L238.5,246.0 L239.0,245.9 L239.5,245.7 L240.0,245.2 L240.5,244.6 L241.0,243.8 L241.5,242.8 L242.0,241.8 L242.5,240.5 L243.0,239.2 L243.5,237.8 L244.0,236.2 L244.5,234.6 L245.0,232.9 L245.5,231.2 L246.0,229.4 L246.5,227.6 L247.0,225.7 L247.5,223.9 L248.0,222.0 L248.5,220.2 L249.0,218.4 L249.5,216.8 L250.0,215.1 L250.5,213.6 L251.0,212.1 L251.5,210.7 L252.0,209.4 L252.5,208.1 L253.0,206.9 L253.5,205.8 L254.0,204.7 L254.5,203.7 L255.0,202.8 L255.5,201.9 L256.0,201.1 L256.5,200.4 L257.0,199.8 L257.5,199.2 L258.0,198.8 L258.5,198.3 L259.0,198.0 L259.5,197.7 L260.0,197.6 L260.5,197.4 L261.0,197.4 L261.5,197.5 L262.0,197.9 L262.5,198.4 L263.0,199.2 L263.5,200.1 L264.0,201.2 L264.5,202.4 L265.0,203.8 L265.5,205.3 L266.0,206.9 L266.5,208.6 L267.0,210.4 L267.5,212.3 L268.0,214.2 L268.5,216.1 L269.0,218.1 L269.5,220.0 L270.0,222.0 L270.5,224.0 L271.0,226.0 L271.5,228.1 L272.0,230.1 L272.5,232.1 L273.0,234.1 L273.5,235.9 L274.0,237.6 L274.5,239.1 L275.0,240.4 L275.5,241.5 L276.0,242.3 L276.5,242.8 L277.0,243.0 L277.5,242.9 L278.0,242.7 L278.5,242.4 L279.0,241.9 L279.5,241.2 L280.0,240.5 L280.5,239.6 L281.0,238.5 L281.5,237.4 L282.0,236.1 L282.5,234.7 L283.0,233.3 L283.5,231.6 L284.0,229.9 L284.5,228.1 L285.0,226.2 L285.5,224.1 L286.0,222.0 L286.5,219.8 L287.0,217.6 L287.5,215.4 L288.0,213.3 L288.5,211.2 L289.0,209.1 L289.5,207.1 L290.0,205.2 L290.5,203.3 L291.0,201.6 L291.5,200.0 L292.0,198.5 L292.5,197.2 L293.0,196.0 L293.5,195.0 L294.0,194.2 L294.5,193.6 L295.0,193.2 L295.5,193.0 L296.0,193.1 L296.5,193.6 L297.0,194.4 L297.5,195.4 L298.0,196.8 L298.5,198.4 L299.0,200.2 L299.5,202.2 L300.0,204.3 L300.5,206.6 L301.0,209.0 L301.5,211.4 L302.0,214.0 L302.5,216.5 L303.0,219.0 L303.5,221.5 L304.0,223.9 L304.5,226.3 L305.0,228.6 L305.5,230.8 L306.0,232.8 L306.5,234.8 L307.0,236.5 L307.5,238.2 L308.0,239.6 L308.5,240.9 L309.0,242.0 L309.5,242.8 L310.0,243.5 L310.5,243.9 L311.0,244.0 L311.5,243.8 L312.0,243.3 L312.5,242.4 L313.0,241.2 L313.5,239.8 L314.0,238.2 L314.5,236.4 L315.0,234.5 L315.5,232.4 L316.0,230.3 L316.5,228.2 L317.0,226.1 L317.5,224.0 L318.0,222.0 L318.5,220.1 L319.0,218.3 L319.5,216.7 L320.0,215.1 L320.5,213.7 L321.0,212.4 L321.5,211.1 L322.0,210.0 L322.5,208.9 L323.0,208.0 L323.5,207.1 L324.0,206.3 L324.5,205.6 L325.0,205.0 L325.5,204.5 L326.0,204.0 L326.5,203.6 L327.0,203.3 L327.5,203.0 L328.0,202.8 L328.5,202.7 L329.0,202.6 L329.5,202.6 L330.0,202.7 L330.5,203.0 L331.0,203.5 L331.5,204.0 L332.0,204.7 L332.5,205.6 L333.0,206.5 L333.5,207.5 L334.0,208.6 L334.5,209.7 L335.0,210.9 L335.5,212.2 L336.0,213.4 L336.5,214.7 L337.0,216.0 L337.5,217.2 L338.0,218.4 L338.5,219.6 L339.0,220.7 L339.5,221.8 L340.0,222.8 L340.5,223.7 L341.0,224.6 L341.5,225.4 L342.0,226.2 L342.5,226.9 L343.0,227.5 L343.5,228.1 L344.0,228.6 L344.5,229.0 L345.0,229.4 L345.5,229.6 L346.0,229.8 L346.5,230.0 L347.0,230.0 L347.5,230.0 L348.0,229.8 L348.5,229.6 L349.0,229.3 L349.5,229.0 L350.0,228.6 L350.5,228.2 L351.0,227.7 L351.5,227.3 L352.0,226.8 L352.5,226.4 L353.0,226.0 L353.5,225.6 L354.0,225.3 L354.5,224.9 L355.0,224.6 L355.5,224.3 L356.0,223.9 L356.5,223.5 L357.0,223.1 L357.5,222.6 L358.0,222.0 L358.5,221.4 L359.0,220.7 L359.5,219.9 L360.0,219.1 L360.5,218.3 L361.0,217.4 L361.5,216.6 L362.0,215.7 L362.5,214.8 L363.0,214.0 L363.5,213.2 L364.0,212.4 L364.5,211.7 L365.0,211.0 L365.5,210.4 L366.0,209.9 L366.5,209.4 L367.0,209.0 L367.5,208.6 L368.0,208.3 L368.5,208.0 L369.0,207.8 L369.5,207.6 L370.0,207.4 L370.5,207.2 L371.0,207.1 L371.5,206.9 L372.0,206.8 L372.5,206.7 L373.0,206.6 L373.5,206.6 L374.0,206.5 L374.5,206.5 L375.0,206.5 L375.5,206.5 L376.0,206.5 L376.5,206.5 L377.0,206.6 L377.5,206.6 L378.0,206.7 L378.5,206.7 L379.0,206.8 L379.5,206.9 L380.0,207.0 L380.5,207.1 L381.0,207.3 L381.5,207.4 L382.0,207.6 L382.5,207.8 L383.0,208.0 L383.5,208.3 L384.0,208.5 L384.5,208.8 L385.0,209.2 L385.5,209.5 L386.0,210.0 L386.5,210.4 L387.0,210.9 L387.5,211.4 L388.0,212.0 L388.5,212.6 L389.0,213.3 L389.5,214.0 L390.0,214.8 L390.5,215.5 L391.0,216.4 L391.5,217.2 L392.0,218.1 L392.5,219.0 L393.0,220.0 L393.5,221.0 L394.0,222.0 L394.5,223.0 L395.0,224.0 L395.5,225.0 L396.0,226.1 L396.5,227.2 L397.0,228.2 L397.5,229.3 L398.0,230.4 L398.5,231.4 L399.0,232.5 L399.5,233.5 L400.0,234.5 L400.5,235.5 L401.0,236.5 L401.5,237.4 L402.0,238.3 L402.5,239.2 L403.0,240.0 L403.5,240.8 L404.0,241.5 L404.5,242.2 L405.0,242.8 L405.5,243.4 L406.0,243.9 L406.5,244.4 L407.0,244.8 L407.5,245.2 L408.0,245.5 L408.5,245.7 L409.0,245.9 L409.5,246.0 L410.0,246.0 L410.5,246.0 L411.0,245.8 L411.5,245.6 L412.0,245.4 L412.5,245.1 L413.0,244.7 L413.5,244.2 L414.0,243.7 L414.5,243.2 L415.0,242.6 L415.5,242.0 L416.0,241.4 L416.5,240.7 L417.0,240.0 L417.5,239.3 L418.0,238.6 L418.5,237.8 L419.0,237.1 L419.5,236.3 L420.0,235.6 L420.5,234.9 L421.0,234.2 L421.5,233.5 L422.0,232.9 L422.5,232.3 L423.0,231.7 L423.5,231.1 L424.0,230.6 L424.5,230.1 L425.0,229.6 L425.5,229.2 L426.0,228.8 L426.5,228.4 L427.0,228.0 L427.5,227.6 L428.0,227.3 L428.5,227.0 L429.0,226.7 L429.5,226.4 L430.0,226.1 L430.5,225.8 L431.0,225.6 L431.5,225.4 L432.0,225.3 L432.5,225.3 L433.0,225.4 L433.5,225.5 L434.0,225.8 L434.5,226.2 L435.0,226.7 L435.5,227.3 L436.0,228.3 L436.5,229.7 L437.0,231.6 L437.5,233.9 L438.0,236.7 L438.5,239.9 L439.0,243.4 L439.5,247.0 L440.0,250.7 L440.5,254.9 L441.0,260.3 L441.5,267.0 L442.0,274.6 L442.5,282.7 L443.0,290.5 L443.5,297.5 L444.0,303.6 L444.5,309.1 L445.0,314.0 L445.5,318.6 L446.0,322.7 L446.5,326.5 L447.0,329.9 L447.5,333.1 L448.0,336.2 L448.5,339.5 L449.0,343.3 L449.5,347.5 L450.0,350.6 L450.5,351.0 L451.0,349.3 L451.5,346.2 L452.0,342.5 L452.5,338.8 L453.0,335.1 L453.5,331.2 L454.0,326.7 L454.5,321.7 L455.0,316.0 L455.5,309.8 L456.0,303.1 L456.5,295.4 L457.0,286.5 L457.5,276.6 L458.0,266.7 L458.5,256.9 L459.0,247.5 L459.5,238.4 L460.0,230.0 L460.5,222.3 L461.0,215.9 L461.5,211.2 L462.0,207.9 L462.5,205.9 L463.0,204.8 L463.5,204.7 L464.0,208.0 L464.5,214.2 L465.0,221.0 L465.5,227.1 L466.0,232.8 L466.5,238.4 L467.0,243.9 L467.5,249.6 L468.0,255.0 L468.5,259.9 L469.0,265.0 L469.5,271.4 L470.0,280.2 L470.5,290.1 L471.0,298.7 L471.5,305.6 L472.0,311.1 L472.5,315.8 L473.0,320.1 L473.5,324.6 L474.0,329.7 L474.5,335.5 L475.0,340.6 L475.5,343.3 L476.0,342.5 L476.5,339.4 L477.0,334.9 L477.5,329.7 L478.0,324.6 L478.5,320.1 L479.0,316.0 L479.5,311.9 L480.0,307.8 L480.5,303.1 L481.0,297.5 L481.5,290.5 L482.0,281.9 L482.5,272.8 L483.0,263.9 L483.5,256.3 L484.0,250.5 L484.5,245.0 L485.0,238.7 L485.5,232.0 L486.0,225.5 L486.5,219.8 L487.0,215.1 L487.5,211.2 L488.0,207.9 L488.5,205.0 L489.0,202.2 L489.5,199.3 L490.0,196.1 L490.5,193.3 L491.0,191.3 L491.5,190.7 L492.0,190.9 L492.5,191.5 L493.0,192.4 L493.5,193.6 L494.0,195.1 L494.5,196.9 L495.0,198.9 L495.5,201.0 L496.0,203.0 L496.5,204.9 L497.0,206.7 L497.5,208.5 L498.0,210.2 L498.5,211.7 L499.0,213.2 L499.5,214.7 L500.0,216.5 L500.5,218.5 L501.0,221.0 L501.5,224.1 L502.0,227.7 L502.5,231.5 L503.0,235.2 L503.5,238.6 L504.0,241.7 L504.5,244.6 L505.0,247.6 L505.5,250.8 L506.0,254.2 L506.5,258.1 L507.0,262.3 L507.5,266.9 L508.0,272.1 L508.5,277.9 L509.0,284.3 L509.5,290.8 L510.0,296.1 L510.5,300.2 L511.0,303.4 L511.5,306.3 L512.0,309.2 L512.5,312.5 L513.0,316.4 L513.5,320.6 L514.0,324.8 L514.5,328.6 L515.0,331.9 L515.5,334.7 L516.0,337.3 L516.5,339.9 L517.0,342.7 L517.5,346.0 L518.0,349.8 L518.5,353.9 L519.0,357.5 L519.5,360.3 L520.0,361.7 L520.5,361.2 L521.0,359.3 L521.5,356.2 L522.0,352.3 L522.5,347.9 L523.0,343.1 L523.5,338.4 L524.0,333.5 L524.5,328.6 L525.0,323.6 L525.5,318.5 L526.0,313.3 L526.5,307.8 L527.0,302.0 L527.5,295.9 L528.0,289.3 L528.5,281.7 L529.0,272.5 L529.5,262.4 L530.0,252.4 L530.5,243.3 L531.0,235.2 L531.5,227.3 L532.0,218.9 L532.5,209.6 L533.0,199.3 L533.5,188.6 L534.0,178.7 L534.5,170.0 L535.0,162.5 L535.5,156.2 L536.0,150.9"/>
</g>
<!-- frame -->
<g stroke="#000" fill="none">
<path stroke-width="1.6" d="M51,14H537.4"/>
<path stroke-width="1.9" d="M536.5,13.2V373"/>
<path stroke-width="1.2" d="M51.6,13.3V373"/>
<path stroke-width="1.1" d="M51,372.5H537.2"/>
<path stroke-width="1.3" d="M109.4,372.5V366 M198.6,372.5V366 M287.9,372.5V366 M377.2,372.5V366 M466.5,372.5V366 M520.6,372.5V366"/>
</g>
<!-- legend -->
<rect x="102.1" y="21.7" width="426.4" height="71.7" fill="#fff" stroke="#111" stroke-width="1"/>
<path d="M113.5,33.6H147.8" stroke="#000" stroke-width="1.5"/>
<path d="M113.5,56.3H147.8" stroke="#ff0000" stroke-width="1"/>
<path d="M113.5,80.7H147.8" stroke="#0000ff" stroke-width="1.5"/>
<text class="lg" x="150.6" y="40.0" font-style="italic" style="font-size:19.5px">Q</text><text x="164.3" y="46.5" font-style="italic" font-size="16px" textLength="9.4" lengthAdjust="spacingAndGlyphs">Z</text>
<text class="lg" x="173.7" y="40.0" textLength="114" lengthAdjust="spacingAndGlyphs">(Ice−propeller,</text>
<text class="lg" x="291.7" y="40.0" textLength="39.5" lengthAdjust="spacingAndGlyphs">In air</text>
<text class="lg" x="333.2" y="40.0">)</text>
<text class="lg" x="150.6" y="62.5" font-style="italic" style="font-size:19.5px">Q</text><text x="164.3" y="69.0" font-style="italic" font-size="16px" textLength="9.4" lengthAdjust="spacingAndGlyphs">Z</text>
<text class="lg" x="173.5" y="62.5" textLength="163.5" lengthAdjust="spacingAndGlyphs">(Ice−water−propeller,</text>
<text class="lg" x="343.3" y="62.5" textLength="172.8" lengthAdjust="spacingAndGlyphs">Atmospheric condition</text>
<text class="lg" x="517.6" y="62.5">)</text>
<text class="lg" x="150.6" y="84.8" font-style="italic" style="font-size:19.5px">Q</text><text x="164.3" y="91.2" font-style="italic" font-size="16px" textLength="9.4" lengthAdjust="spacingAndGlyphs">Z</text>
<text class="lg" x="173.5" y="84.8" textLength="163.5" lengthAdjust="spacingAndGlyphs">(Ice−water−propeller,</text>
<text class="lg" x="343.2" y="84.8" font-style="italic" style="font-size:19.5px" textLength="11.4" lengthAdjust="spacingAndGlyphs">σ</text>
<text class="lg" x="357.6" y="84.8" style="font-size:19.5px" textLength="45.6" lengthAdjust="spacingAndGlyphs">= 0.33</text>
<text class="lg" x="406.2" y="84.8">)</text>
<!-- y tick labels -->
<g class="tk">
<text x="34.4" y="22" textLength="9.0" lengthAdjust="spacingAndGlyphs">4</text>
<text x="35.3" y="89.7" textLength="9.0" lengthAdjust="spacingAndGlyphs">2</text>
<text x="36.7" y="159.8" textLength="9.0" lengthAdjust="spacingAndGlyphs">0</text>
<text x="30.2" y="227.3" textLength="15.0" lengthAdjust="spacingAndGlyphs">-2</text>
<text x="30.2" y="297.1" textLength="15.0" lengthAdjust="spacingAndGlyphs">-4</text>
<text x="30.2" y="367.5" textLength="15.0" lengthAdjust="spacingAndGlyphs">-6</text>
</g>
<!-- x tick labels -->
<g class="tk" text-anchor="middle">
<text x="109.4" y="391.1" textLength="9.0" lengthAdjust="spacingAndGlyphs">0</text>
<text x="197.4" y="391.1" textLength="18.0" lengthAdjust="spacingAndGlyphs">90</text>
<text x="287.4" y="391.1" textLength="27.0" lengthAdjust="spacingAndGlyphs">180</text>
<text x="376.8" y="391.1" textLength="27.0" lengthAdjust="spacingAndGlyphs">270</text>
<text x="466.5" y="391.1" textLength="9.0" lengthAdjust="spacingAndGlyphs">0</text>
</g>
<!-- axis labels -->
<text x="274.6" y="412.6" font-size="22.5px"><tspan font-style="italic">θ</tspan>/°</text>
<text transform="translate(23.7,221.3) rotate(-90) scale(1,1.1)" font-size="21.7px"><tspan font-style="italic">Q</tspan><tspan font-style="italic" font-size="14px" dy="1.2">Z</tspan><tspan dy="-1.2">/N.m</tspan></text>
<text x="268.8" y="445.8" font-size="25.5px">(</text>
<text x="277.5" y="445.6" font-size="25px" font-weight="bold" textLength="12.2" lengthAdjust="spacingAndGlyphs">e</text>
<text x="289.8" y="445.8" font-size="25.5px">)</text>
</svg>
</body></html>
